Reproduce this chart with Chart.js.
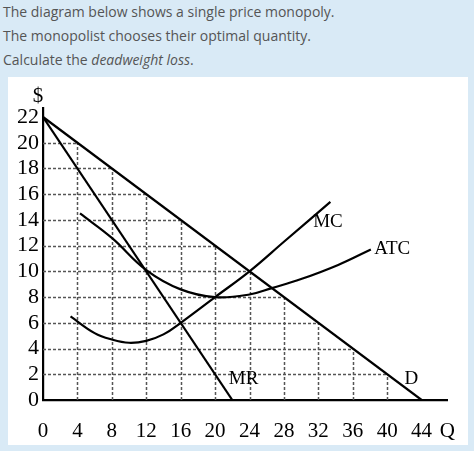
<!DOCTYPE html>
<html>
<head>
<meta charset="utf-8">
<script src="https://cdn.jsdelivr.net/npm/chart.js@4.4.1/dist/chart.umd.min.js"></script>
<style>
  html, body { margin:0; padding:0; }
  body { width:474px; height:451px; background:#d9eaf6; position:relative; overflow:hidden; font-family:"Open Sans", sans-serif; }
  #hdr { position:absolute; left:3px; top:0; font-size:14px; line-height:24px; color:#555; }
  #panel { position:absolute; left:8px; top:77px; width:460px; height:368px; background:#fff; }
  #c { position:absolute; left:0; top:0; }
</style>
</head>
<body>
<div id="hdr">
  <div>The diagram below shows a single price monopoly.</div>
  <div>The monopolist chooses their optimal quantity.</div>
  <div>Calculate the <i>deadweight loss</i>.</div>
</div>
<div id="panel"></div>
<canvas id="c" width="474" height="451"></canvas>
<script>
// ---- data ----
const xTicks = [0, 4, 8, 12, 16, 20, 24, 28, 32, 36, 40, 44];
const yTicks = [0, 2, 4, 6, 8, 10, 12, 14, 16, 18, 20, 22];
const demandQ = [0, 44];
const demandP = [22, 0];
const mrQ = [0, 22];
const mrP = [22, 0];
const mcQ = [3.2, 6, 8, 10, 12, 14, 16, 20, 24, 28, 33.4];
const mcP = [6.5, 5.2, 4.7, 4.45, 4.6, 5.1, 6, 8, 10, 12.3, 15.4];
const atcQ = [4.3, 8, 12, 16, 20, 24, 26.6, 30, 34.3, 38.1];
const atcP = [14.5, 12.6, 10.1, 8.6, 8, 8.2, 8.7, 9.4, 10.5, 11.7];
const curveLabels = [
  { text: "MC", q: 31.4, p: 13.8 },
  { text: "ATC", q: 38.5, p: 11.7 },
  { text: "MR", q: 21.6, p: 1.65 },
  { text: "D", q: 42.0, p: 1.65 }
];

const pts = (xs, ys) => xs.map((x, i) => ({ x: x, y: ys[i] }));
const demandAt = q => {
  const t = (q - demandQ[0]) / (demandQ[1] - demandQ[0]);
  return demandP[0] + t * (demandP[1] - demandP[0]);
};
const qAtPrice = p => {
  const t = (p - demandP[0]) / (demandP[1] - demandP[0]);
  return demandQ[0] + t * (demandQ[1] - demandQ[0]);
};

const serif = "'Liberation Serif', 'DejaVu Serif', serif";

const gridPlugin = {
  id: 'triGrid',
  beforeDatasetsDraw(chart) {
    const { ctx, scales: { x, y } } = chart;
    ctx.save();
    ctx.strokeStyle = '#555';
    ctx.lineWidth = 1.5;
    ctx.setLineDash([3, 2]);
    yTicks.forEach(p => {
      if (p <= 0 || p >= 22) return;
      const yy = Math.round(y.getPixelForValue(p)) + 0.5;
      ctx.beginPath();
      ctx.moveTo(x.getPixelForValue(0), yy);
      ctx.lineTo(x.getPixelForValue(qAtPrice(p)), yy);
      ctx.stroke();
    });
    xTicks.forEach(q => {
      if (q <= 0 || q >= 44) return;
      const xx = Math.round(x.getPixelForValue(q)) + 0.5;
      ctx.beginPath();
      ctx.moveTo(xx, y.getPixelForValue(0));
      ctx.lineTo(xx, y.getPixelForValue(demandAt(q)));
      ctx.stroke();
    });
    ctx.restore();
  },
  afterDatasetsDraw(chart) {
    const { ctx, scales: { x, y } } = chart;
    ctx.save();
    ctx.fillStyle = '#000';
    ctx.font = "19px " + serif;
    ctx.textBaseline = 'middle';
    ctx.textAlign = 'left';
    curveLabels.forEach(l => {
      ctx.fillText(l.text, x.getPixelForValue(l.q), y.getPixelForValue(l.p));
    });
    ctx.font = "21px " + serif;
    ctx.textAlign = 'center';
    ctx.fillText("$", x.getPixelForValue(0) - 5, y.getPixelForValue(22) - 21);
    ctx.restore();
  }
};

const lineDs = (data, smooth) => ({
  data: data,
  showLine: true,
  borderColor: '#000',
  borderWidth: 2.2,
  pointRadius: 0,
  fill: false,
  tension: smooth ? 0.4 : 0
});

new Chart(document.getElementById('c'), {
  type: 'scatter',
  data: {
    datasets: [
      lineDs(pts(demandQ, demandP), false),
      lineDs(pts(mrQ, mrP), false),
      lineDs(pts(mcQ, mcP), true),
      lineDs(pts(atcQ, atcP), true)
    ]
  },
  options: {
    responsive: false,
    devicePixelRatio: 1,
    animation: false,
    layout: { padding: { left: 0, right: 25, top: 108, bottom: 0 } },
    plugins: { legend: { display: false }, tooltip: { enabled: false } },
    scales: {
      x: {
        type: 'linear', min: 0, max: 47,
        afterBuildTicks: s => { s.ticks = xTicks.concat([47]).map(v => ({ value: v })); },
        afterFit: s => { s.height = 51; },
        grid: { display: false, drawTicks: false },
        border: { display: true, color: '#000', width: 2.2 },
        ticks: {
          autoSkip: false, maxRotation: 0, padding: 19, color: '#000',
          font: { family: serif, size: 21 },
          callback: v => (v === 47 ? 'Q' : String(v))
        }
      },
      y: {
        type: 'linear', min: 0, max: 22.7,
        afterBuildTicks: s => { s.ticks = yTicks.map(v => ({ value: v })); },
        afterFit: s => { s.width = 43; },
        grid: { display: false, drawTicks: false },
        border: { display: true, color: '#000', width: 2.2 },
        ticks: {
          autoSkip: false, padding: 4, color: '#000',
          font: { family: serif, size: 22 },
          callback: v => String(v)
        }
      }
    }
  },
  plugins: [gridPlugin]
});
</script>
</body>
</html>
